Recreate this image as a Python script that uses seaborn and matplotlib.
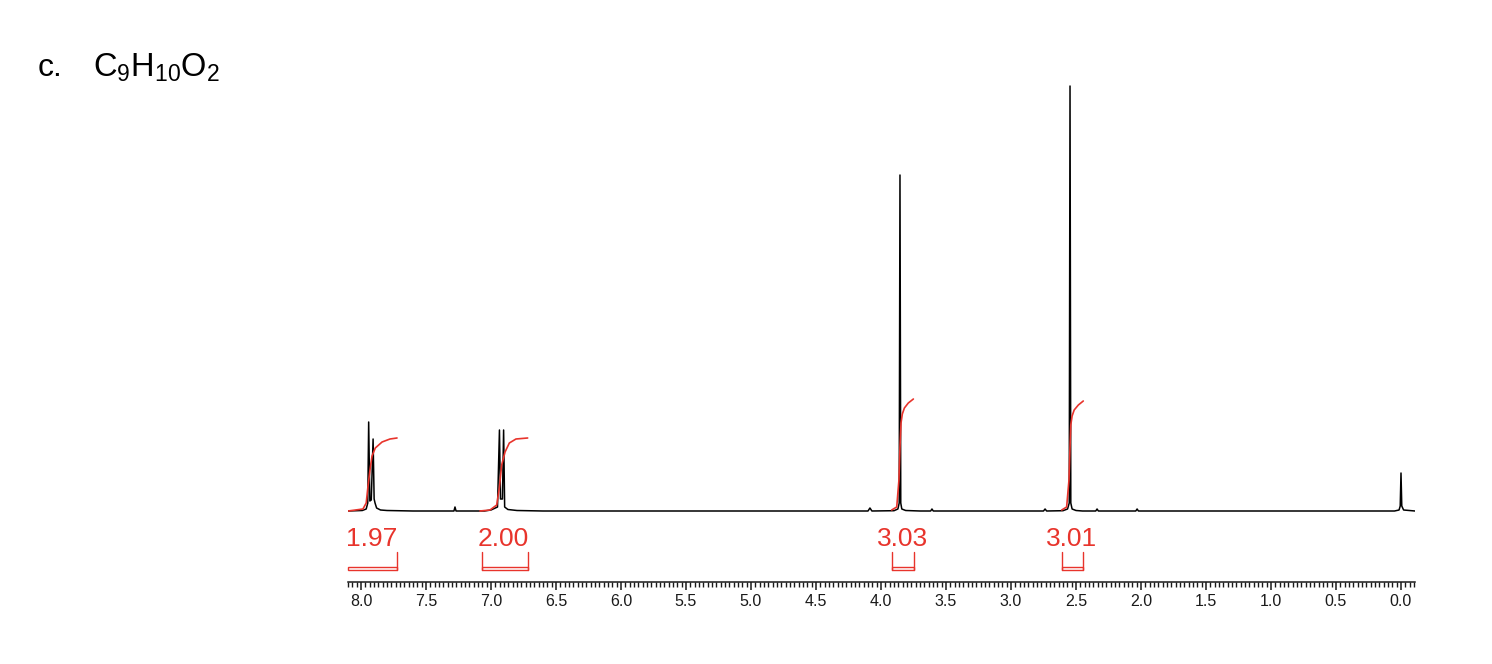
import numpy as np
import pandas as pd
import matplotlib
matplotlib.use("Agg")
import matplotlib.pyplot as plt
import seaborn as sns
from matplotlib.patches import Rectangle
from matplotlib.ticker import FixedLocator

# spectrum trace (ppm, intensity), baseline = 0
spec_ppm = [8.10, 7.99, 7.96, 7.948, 7.941, 7.932, 7.921, 7.907, 7.899, 7.892, 7.88, 7.85, 7.80, 7.60,
            7.285, 7.277, 7.269, 7.05, 7.00, 6.95, 6.935, 6.927, 6.912, 6.903, 6.895, 6.87, 6.80, 6.60,
            4.10, 4.085, 4.07, 3.90, 3.87, 3.860, 3.854, 3.848, 3.84, 3.81, 3.70,
            3.618, 3.608, 3.598, 2.75, 2.738, 2.726, 2.60, 2.565, 2.552, 2.546, 2.540, 2.53, 2.50, 2.45,
            2.348, 2.338, 2.328, 2.04, 2.03, 2.02, 0.05, 0.015, 0.006, 0.0, -0.006, -0.02, -0.108]
spec_int = [0, 0.5, 2, 8, 89, 10, 11, 72, 12, 8, 3, 1, 0.5, 0,
            0, 4, 0, 0, 1, 4, 81, 12, 12, 81, 4, 1.5, 0.5, 0,
            0, 3, 0, 0.3, 2, 8, 336, 8, 2, 0.5, 0,
            0, 2, 0, 0, 2, 0, 0.3, 2, 8, 425, 8, 2, 0.5, 0,
            0, 2, 0, 0, 2, 0, 0, 1, 5, 38, 5, 1, 0]

# integral curves
int1_ppm = [8.10, 7.985, 7.96, 7.946, 7.93, 7.915, 7.89, 7.838, 7.777, 7.723]
int1_val = [0, 2, 8, 25, 42, 55, 63, 69, 72, 73]
int2_ppm = [7.085, 7.008, 6.956, 6.936, 6.918, 6.892, 6.859, 6.808, 6.718]
int2_val = [0, 1, 6, 23, 46, 59, 68, 72, 73]
int3_ppm = [3.918, 3.879, 3.862, 3.854, 3.846, 3.836, 3.82, 3.79, 3.751]
int3_val = [1, 4, 31, 64, 88, 97, 103, 108, 112]
int4_ppm = [2.61, 2.572, 2.554, 2.546, 2.540, 2.530, 2.514, 2.482, 2.444]
int4_val = [1, 4, 31, 64, 86, 95, 101, 106, 110]

# integration labels and brackets
int_labels = ["1.97", "2.00", "3.03", "3.01"]
label_ppm = [7.915, 6.908, 3.838, 2.538]
bracket_left = [8.10, 7.072, 3.918, 2.61]
bracket_right = [7.723, 6.718, 3.744, 2.444]
left_tick = [False, True, True, True]

RED = "#e8342c"

sns.set_style("white")
plt.rcParams["font.family"] = ["Liberation Sans", "DejaVu Sans"]
plt.rcParams["mathtext.fontset"] = "custom"
plt.rcParams["mathtext.rm"] = "Liberation Sans"

fig = plt.figure(figsize=(14.92, 6.64), dpi=100)
W, H = 1492, 664
ax = fig.add_axes([348 / W, 1 - 582 / H, (1415 - 348) / W, (582 - 80) / H])

spec = pd.DataFrame({"ppm": spec_ppm, "intensity": spec_int})
sns.lineplot(data=spec, x="ppm", y="intensity", color="black", lw=1.1,
             estimator=None, sort=False, ax=ax)

for p, v in [(int1_ppm, int1_val), (int2_ppm, int2_val), (int3_ppm, int3_val), (int4_ppm, int4_val)]:
    sns.lineplot(x=p, y=v, color=RED, lw=1.2, estimator=None, sort=False, ax=ax)

for lab, lx, bl, br, lt in zip(int_labels, label_ppm, bracket_left, bracket_right, left_tick):
    ax.text(lx, -34.7, lab, color=RED, fontsize=19, ha="center", va="baseline")
    ax.add_patch(Rectangle((br, -59), bl - br, 3, fill=False, edgecolor=RED, lw=1, clip_on=False))
    ax.plot([br, br], [-59, -41], color=RED, lw=1, clip_on=False)
    if lt:
        ax.plot([bl, bl], [-59, -41], color=RED, lw=1, clip_on=False)

ax.set_xlim(8.10, -0.1077)
ax.set_ylim(-71, 431)
major = np.arange(0, 8.01, 0.5)
ax.xaxis.set_major_locator(FixedLocator(major))
ax.xaxis.set_minor_locator(FixedLocator(np.arange(-3, 244) / 30.0))
ax.set_xticklabels([f"{t:.1f}" for t in major])
ax.tick_params(axis="x", which="major", direction="out", length=6, width=1.1, pad=2.5,
               labelsize=11.5, colors="#1a1a1a", bottom=True)
ax.tick_params(axis="x", which="minor", direction="out", length=3.5, width=1, bottom=True, color="#1a1a1a")
ax.set_yticks([])
ax.set_xlabel("")
ax.set_ylabel("")
for s in ["top", "left", "right"]:
    ax.spines[s].set_visible(False)
ax.spines["bottom"].set_color("#1a1a1a")
ax.spines["bottom"].set_linewidth(1.1)

fig.text(38 / W, 1 - 76 / H, "c.", fontsize=23, color="black", ha="left", va="baseline")
fig.text(93 / W, 1 - 77 / H, r"$\mathregular{C_9H_{10}O_2}$", fontsize=23.5, color="black",
         ha="left", va="baseline")

fig.savefig("out.png", dpi=100)
